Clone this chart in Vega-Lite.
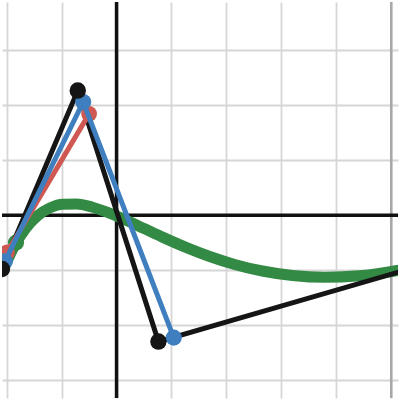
{
  "$schema": "https://vega.github.io/schema/vega-lite/v6.json",
  "width": 400,
  "height": 400,
  "autosize": {"type": "fit", "contains": "padding"},
  "padding": 0,
  "background": "white",
  "config": {
    "view": {"stroke": null},
    "axis": {
      "labels": false, "ticks": false, "domain": false, "title": null,
      "grid": true, "gridColor": "#d6d6d6", "gridWidth": 1.8
    }
  },
  "datasets": {
    "curve": [
      {"x": -2.067, "y": -1.004},
      {"x": -1.863, "y": -0.569},
      {"x": -1.654, "y": -0.242},
      {"x": -1.438, "y": -0.011},
      {"x": -1.213, "y": 0.132},
      {"x": -0.975, "y": 0.200},
      {"x": -0.723, "y": 0.202},
      {"x": -0.452, "y": 0.149},
      {"x": -0.162, "y": 0.050},
      {"x": 0.151, "y": -0.082},
      {"x": 0.490, "y": -0.239},
      {"x": 0.856, "y": -0.409},
      {"x": 1.253, "y": -0.582},
      {"x": 1.683, "y": -0.748},
      {"x": 2.149, "y": -0.897},
      {"x": 2.654, "y": -1.017},
      {"x": 3.199, "y": -1.098},
      {"x": 3.788, "y": -1.131},
      {"x": 4.423, "y": -1.104},
      {"x": 5.108, "y": -1.007},
      {"x": 5.843, "y": -0.831}
    ],
    "pts": [
      {"series": "black", "i": 0, "x": -2.085, "y": -0.98},
      {"series": "black", "i": 1, "x": -0.706, "y": 2.267},
      {"series": "black", "i": 2, "x": 0.762, "y": -2.301},
      {"series": "black", "i": 3, "x": 5.843, "y": -0.831},
      {"series": "blue", "i": 0, "x": -2.031, "y": -0.841},
      {"series": "blue", "i": 1, "x": -0.607, "y": 2.059},
      {"series": "blue", "i": 2, "x": 1.041, "y": -2.229},
      {"series": "red", "i": 0, "x": -1.995, "y": -0.679},
      {"series": "red", "i": 1, "x": -0.5, "y": 1.843},
      {"series": "green", "i": 0, "x": -1.83, "y": -0.5}
    ]
  },
  "layer": [
    {
      "data": {"values": [{"x": 0, "y": 0}]},
      "mark": {"type": "point", "opacity": 0},
      "encoding": {
        "x": {"field": "x", "type": "quantitative", "scale": {"domain": [-2.085, 5.123], "nice": false, "zero": false},
              "axis": {"values": [-2, -1, 0, 1, 2, 3, 4, 5]}},
        "y": {"field": "y", "type": "quantitative", "scale": {"domain": [-3.328, 3.879], "nice": false, "zero": false},
              "axis": {"values": [-3, -2, -1, 0, 1, 2, 3]}}
      }
    },
    {
      "data": {"values": [{"x": 5}]},
      "mark": {"type": "rule", "color": "#a8a8a8", "strokeWidth": 2.5},
      "encoding": {"x": {"field": "x", "type": "quantitative"}}
    },
    {
      "data": {"values": [{"x": 0}]},
      "mark": {"type": "rule", "color": "#111111", "strokeWidth": 3.5},
      "encoding": {"x": {"field": "x", "type": "quantitative"}}
    },
    {
      "data": {"values": [{"y": 0}]},
      "mark": {"type": "rule", "color": "#111111", "strokeWidth": 3.5},
      "encoding": {"y": {"field": "y", "type": "quantitative"}}
    },
    {
      "data": {"name": "curve"},
      "mark": {"type": "line", "color": "#338a44", "strokeWidth": 11, "interpolate": "monotone", "clip": true},
      "encoding": {
        "x": {"field": "x", "type": "quantitative"},
        "y": {"field": "y", "type": "quantitative"}
      }
    },
    {
      "data": {"name": "pts"},
      "transform": [{"filter": "datum.series === 'green'"}],
      "mark": {"type": "circle", "color": "#338a44", "size": 260, "opacity": 1, "clip": true},
      "encoding": {
        "x": {"field": "x", "type": "quantitative"},
        "y": {"field": "y", "type": "quantitative"}
      }
    },
    {
      "data": {"name": "pts"},
      "transform": [{"filter": "datum.series === 'black'"}],
      "mark": {"type": "line", "color": "#151515", "strokeWidth": 5, "clip": true},
      "encoding": {
        "x": {"field": "x", "type": "quantitative"},
        "y": {"field": "y", "type": "quantitative"},
        "order": {"field": "i"}
      }
    },
    {
      "data": {"name": "pts"},
      "transform": [{"filter": "datum.series === 'red'"}],
      "mark": {"type": "line", "color": "#cf5853", "strokeWidth": 5, "clip": true},
      "encoding": {
        "x": {"field": "x", "type": "quantitative"},
        "y": {"field": "y", "type": "quantitative"},
        "order": {"field": "i"}
      }
    },
    {
      "data": {"name": "pts"},
      "transform": [{"filter": "datum.series === 'red'"}],
      "mark": {"type": "circle", "color": "#cf5853", "size": 250, "opacity": 1, "clip": true},
      "encoding": {
        "x": {"field": "x", "type": "quantitative"},
        "y": {"field": "y", "type": "quantitative"}
      }
    },
    {
      "data": {"name": "pts"},
      "transform": [{"filter": "datum.series === 'blue'"}],
      "mark": {"type": "line", "color": "#3f7fbf", "strokeWidth": 5, "clip": true},
      "encoding": {
        "x": {"field": "x", "type": "quantitative"},
        "y": {"field": "y", "type": "quantitative"},
        "order": {"field": "i"}
      }
    },
    {
      "data": {"name": "pts"},
      "transform": [{"filter": "datum.series === 'blue'"}],
      "mark": {"type": "circle", "color": "#3f7fbf", "size": 260, "opacity": 1, "clip": true},
      "encoding": {
        "x": {"field": "x", "type": "quantitative"},
        "y": {"field": "y", "type": "quantitative"}
      }
    },
    {
      "data": {"name": "pts"},
      "transform": [{"filter": "datum.series === 'black'"}],
      "mark": {"type": "circle", "color": "#151515", "size": 270, "opacity": 1, "clip": true},
      "encoding": {
        "x": {"field": "x", "type": "quantitative"},
        "y": {"field": "y", "type": "quantitative"}
      }
    }
  ]
}
